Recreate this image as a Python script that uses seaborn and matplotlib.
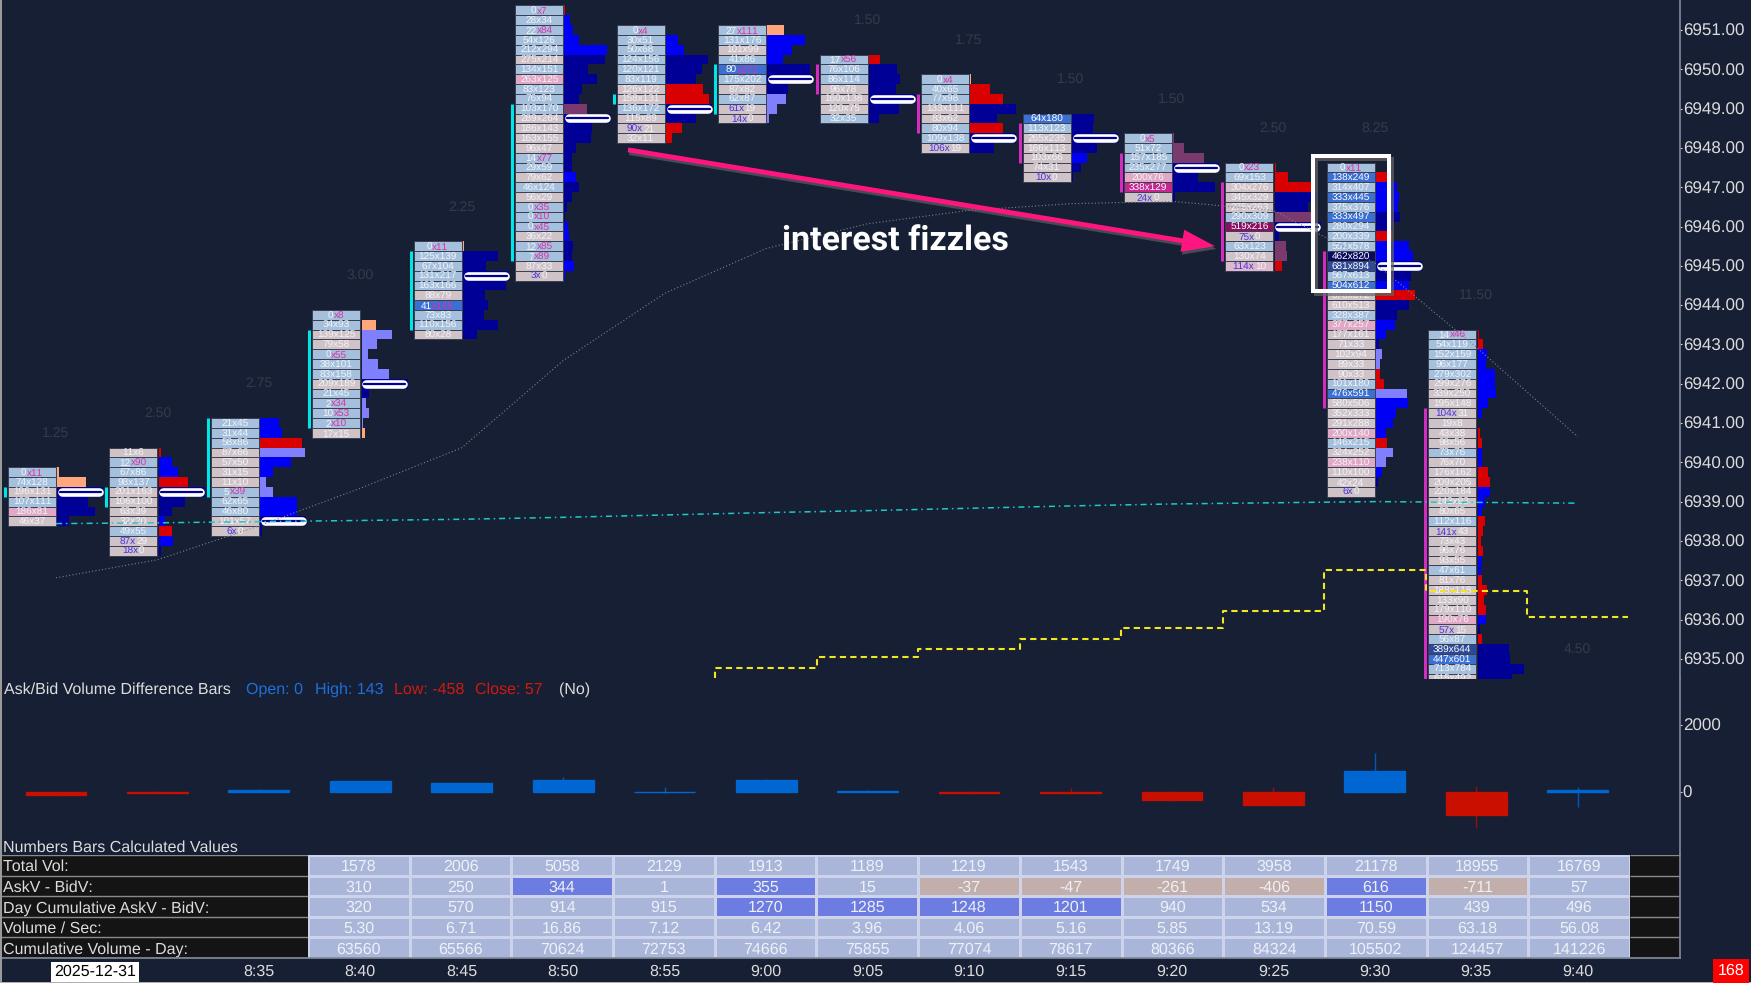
import matplotlib
matplotlib.use("Agg")
import matplotlib.pyplot as plt
import matplotlib.patheffects as pe
from matplotlib.colors import ListedColormap
from matplotlib.patches import FancyArrowPatch, Rectangle
import numpy as np
import pandas as pd
import seaborn as sns

# ---------- footprint data ----------
BAR_TOPS = [6939.75, 6940.25, 6941.0, 6943.75, 6945.5, 6951.5, 6951.0, 6951.0,
            6950.25, 6949.75, 6948.75, 6948.25, 6947.5, 6947.5, 6943.25]
BAR_00 = ["0x11", "74x128", "196x131", "107x111", "186x81", "46x37"]
BAR_01 = ["11x6", "12x90", "67x86", "98x137", "201x163", "106x100", "63x39", "32x20", "49x55", "87x29", "18x0"]
BAR_02 = ["21x45", "31x44", "58x86", "87x66", "57x50", "31x15", "11x10", "5x39", "62x65", "46x80", "101x57", "6x0"]
BAR_03 = ["0x8", "34x93", "139x125", "79x58", "0x55", "38x101", "83x158", "209x189", "21x45", "2x34", "10x53", "2x10", "17x15"]
BAR_04 = ["0x11", "125x139", "67x104", "131x217", "163x166", "88x79", "41x145", "73x83", "110x156", "80x28"]
BAR_05 = ["0x7", "28x34", "22x84", "54x126", "212x294", "275x214", "134x151", "263x125", "83x123", "76x94",
          "103x170", "289x264", "186x143", "163x155", "96x47", "14x77", "29x59", "79x62", "46x124", "56x29",
          "0x35", "0x10", "0x45", "36x22", "12x85", "7x89", "87x33", "3x0"]
BAR_06 = ["0x4", "30x51", "50x68", "124x156", "120x121", "83x119", "126x122", "158x131", "136x172", "115x89", "90x21", "32x11"]
BAR_07 = ["27x111", "131x176", "101x99", "41x86", "80x272", "175x202", "87x82", "62x87", "61x19", "14x0"]
BAR_08 = ["17x56", "76x106", "86x114", "96x78", "160x138", "120x75", "32x35"]
BAR_09 = ["0x4", "40x65", "77x98", "133x111", "83x62", "80x94", "109x138", "106x19"]
BAR_10 = ["64x180", "113x123", "265x235", "166x113", "103x66", "74x31", "10x0"]
BAR_11 = ["0x5", "51x72", "157x185", "235x277", "200x76", "338x129", "24x0"]
BAR_12 = ["0x23", "69x153", "304x276", "345x329", "275x263", "290x309", "519x216", "75x0", "63x123", "130x74", "114x10"]
BAR_13 = ["0x11", "138x249", "314x407", "333x445", "375x376", "333x497", "280x294", "200x339", "551x578", "462x820",
          "681x894", "567x613", "504x612", "678x672", "610x513", "328x387", "377x257", "177x161", "71x33", "102x94",
          "89x33", "90x33", "101x180", "476x591", "580x506", "352x333", "291x288", "200x140", "146x215", "324x252",
          "238x110", "110x100", "42x24", "6x0"]
BAR_14 = ["14x46", "54x119", "152x159", "96x177", "279x302", "299x276", "339x250", "195x148", "104x31", "19x8",
          "43x38", "98x56", "73x76", "76x70", "176x162", "209x205", "220x184", "143x93", "80x65", "112x116",
          "141x43", "73x43", "96x76", "93x55", "47x61", "81x76", "188x118", "133x90", "179x110", "190x76",
          "57x15", "56x87", "389x644", "447x601", "713x784", "615x492"]
BARS = [BAR_00, BAR_01, BAR_02, BAR_03, BAR_04, BAR_05, BAR_06, BAR_07, BAR_08, BAR_09, BAR_10, BAR_11, BAR_12, BAR_13, BAR_14]

# profile colour code per row (P = point of control row)
PROFILE = ["ooPnnn", "rbbrPnnbrbn", "bbrpbbppbbPn", "oopppppPnpppo", "onnPnnnnnn",
           "rbbbbnnnnnmPnnnnnbnnnnbbnnbb", "rbbnnnrrPnrr", "obbbnPnppp", "rnnnPnn", "orrnnrPn",
           "nnPnbnn", "mmmPnnn", "rrrnnmPnmmr", "rrbbbnnrbbPnbrnnbbnpprrpbbbbrppbnn",
           "rrbbbbbbbnrrbbrrbbbrrrrbbrrrrbnrnnnn"]
# price-side marker: first row, last row, colour code
SIDE_MARK = [(2, 2, "c"), (4, 5, "c"), (0, 7, "c"), (2, 11, "c"), (1, 8, "c"), (10, 25, "c"), (7, 7, "c"), (4, 8, "c"),
             (1, 3, "m"), (2, 5, "m"), (1, 4, "m"), (2, 5, "m"), (2, 9, "m"), (9, 24, "m"), (8, 35, "m")]
STRONG_CELLS = {(0, "186x81"): "pink", (5, "263x125"): "pink", (13, "377x257"): "pink", (13, "200x140"): "pink",
                (13, "238x110"): "pink", (11, "200x76"): "pink", (14, "190x76"): "pink", (12, "114x10"): "pale",
                (11, "338x129"): "mag", (12, "519x216"): "dmag",
                (4, "41x145"): "mid", (7, "80x272"): "mid", (10, "64x180"): "mid", (13, "138x249"): "mid",
                (13, "333x445"): "mid", (13, "333x497"): "mid", (13, "504x612"): "mid", (13, "476x591"): "mid",
                (14, "447x601"): "mid", (13, "681x894"): "dark", (14, "389x644"): "dark", (13, "462x820"): "navy"}
DELTA_LABELS = {0: "1.25", 1: "2.50", 2: "2.75", 3: "3.00", 4: "2.25", 8: "1.50", 9: "1.75", 10: "1.50",
                11: "1.50", 12: "2.50", 13: "8.25", 14: "11.50"}
LAST_DELTA = ("4.50", 15, 6935.25)

MA_PRICE = [6937.06, 6937.52, 6938.38, 6939.34, 6940.37, 6942.59, 6944.3, 6945.44,
            6946.07, 6946.41, 6946.58, 6946.64, 6946.41, 6945.07, 6942.93, 6940.65]
VWAP_PRICE = [6938.44, 6938.46, 6938.49, 6938.52, 6938.55, 6938.6, 6938.66, 6938.72,
              6938.77, 6938.83, 6938.89, 6938.94, 6938.97, 6939.0, 6938.98, 6938.96]
STEP_BARS = [7, 8, 9, 10, 11, 12, 13, 14, 15]
STEP_PRICE = [6934.76, 6935.04, 6935.24, 6935.5, 6935.78, 6936.21, 6937.26, 6936.72, 6936.07]
STEP_START = 6934.5

# ---------- volume-difference candles ----------
DIFF_CLOSE = [-110, -25, 55, 310, 250, 344, 1, 355, 15, -37, -47, -261, -406, 616, -711, 57]
DIFF_HIGH = [0, 20, 70, 330, 260, 430, 150, 370, 50, 10, 120, 10, 130, 1150, 170, 143]
DIFF_LOW = [-130, -40, 0, 0, 0, 0, -30, 0, -20, -60, -70, -270, -440, 0, -1100, -458]

# ---------- table ----------
TIME_LABELS = ["8:35", "8:40", "8:45", "8:50", "8:55", "9:00", "9:05", "9:10", "9:15", "9:20", "9:25", "9:30", "9:35", "9:40"]
ROW_LABELS = ["Total Vol:", "AskV - BidV:", "Day Cumulative AskV - BidV:", "Volume / Sec:", "Cumulative Volume - Day:"]
TOTAL_VOL = ["1578", "2006", "5058", "2129", "1913", "1189", "1219", "1543", "1749", "3958", "21178", "18955", "16769"]
ASK_BID = ["310", "250", "344", "1", "355", "15", "-37", "-47", "-261", "-406", "616", "-711", "57"]
DAY_CUM = ["320", "570", "914", "915", "1270", "1285", "1248", "1201", "940", "534", "1150", "439", "496"]
VOL_SEC = ["5.30", "6.71", "16.86", "7.12", "6.42", "3.96", "4.06", "5.16", "5.85", "13.19", "70.59", "63.18", "56.08"]
CUM_VOL = ["63560", "65566", "70624", "72753", "74666", "75855", "77074", "78617", "80366", "84324", "105502", "124457", "141226"]
ASK_BID_SHADE = [0, 0, 1, 0, 1, 0, 2, 2, 2, 2, 1, 2, 0]
DAY_CUM_SHADE = [0, 0, 0, 0, 1, 1, 1, 1, 0, 0, 1, 0, 0]

# ---------- styling / layout ----------
W, H = 1751, 983
BG = "#161f33"
TXT = "#dcdcdc"
PX_PER_BAR, X0 = 101.45, 56.0
PX_PER_PT, Y0, P0 = 39.3, 30.0, 6951.0
CELL = 0.25
LADDER_W = 48 / PX_PER_BAR
PROFILE_W = 46 / PX_PER_BAR
PROFILE_COLORS = {"o": "#ffa77a", "n": "#000096", "b": "#0000f5", "r": "#d80000", "p": "#8080ff", "m": "#7a3a6e"}
CELL_COLORS = {"blue": "#a5c0dc", "gray": "#cfc3c8", "pink": "#e0a8c4", "pale": "#dcb8cc", "mag": "#c4288f",
               "dmag": "#8c0f62", "mid": "#3b6fd4", "dark": "#2c4a96", "navy": "#0a0a60"}
SIDE_COLORS = {"c": "#00e6e6", "m": "#d42cc0"}
PALE, ASK_IMB, BID_IMB = "#f2f4f8", "#4a30e0", "#dc30a8"

sns.set_theme(style="dark", rc={"axes.facecolor": BG, "figure.facecolor": BG})
plt.rcParams["font.family"] = ["Liberation Sans", "DejaVu Sans"]
plt.rcParams["text.hinting"] = "no_hinting"
plt.rcParams["text.hinting_factor"] = 1
fig = plt.figure(figsize=(W / 100, H / 100), dpi=100, facecolor=BG)


def axpx(left, top, right, bottom, **kw):
    return fig.add_axes([left / W, 1 - bottom / H, (right - left) / W, (bottom - top) / H], **kw)


XLIM = (-X0 / PX_PER_BAR, (1680 - X0) / PX_PER_BAR)
PANE_BOTTOM = 679
ax = axpx(0, 0, 1680, PANE_BOTTOM, facecolor=BG)
ax.set_xlim(*XLIM)
ax.set_ylim(P0 - (PANE_BOTTOM - Y0) / PX_PER_PT, P0 + Y0 / PX_PER_PT)

FS = 7.4
EM = FS * 100 / 72
for i, (top, rows, codes) in enumerate(zip(BAR_TOPS, BARS, PROFILE)):
    asks = np.array([int(r.split("x")[0]) for r in rows])
    bids = np.array([int(r.split("x")[1]) for r in rows])
    totals = asks + bids
    prices = top - CELL * np.arange(len(rows))
    colours = []
    for r, a, b in zip(rows, asks, bids):
        key = STRONG_CELLS.get((i, r), "gray" if a > b else "blue")
        colours.append(CELL_COLORS[key])
    ax.barh(prices, [LADDER_W] * len(rows), left=i - LADDER_W, height=CELL, color=colours,
            edgecolor="#3a3f52", linewidth=0.7, zorder=2)
    widths = totals / totals.max() * PROFILE_W
    gap = 1.2 / PX_PER_BAR
    ax.barh(prices, widths, left=i + gap, height=CELL,
            color=[PROFILE_COLORS["n" if c == "P" else c] for c in codes], linewidth=0, zorder=2)
    # side marker
    r0, r1, code = SIDE_MARK[i]
    mx = i - LADDER_W - 3.0 / PX_PER_BAR
    ax.plot([mx, mx], [prices[r0] + CELL / 2, prices[r1] - CELL / 2], color=SIDE_COLORS[code],
            lw=2.2, solid_capstyle="butt", zorder=3)
    # point of control marker
    if "P" in codes:
        py = prices[codes.index("P")]
        x1, x2 = i + 6 / PX_PER_BAR, i + 43 / PX_PER_BAR
        ax.plot([x1, x2], [py, py], color="white", lw=6.2, solid_capstyle="round", zorder=5)
        ax.plot([x1 - 2 / PX_PER_BAR, x2 + 2 / PX_PER_BAR], [py, py], color="#000096", lw=1.6, zorder=6)
    # ladder text
    cx = i - LADDER_W / 2
    for r, a, b, p in zip(rows, asks, bids, prices):
        sa, sb = r.split("x")
        dark = STRONG_CELLS.get((i, r)) in ("mag", "dmag", "mid", "dark", "navy")
        base = "white" if dark else PALE
        if b >= 3 * max(a, 1) or a >= 3 * max(b, 1):
            da, dx = 0.556 * EM, 0.5 * EM
            total = (len(sa) + len(sb)) * da + dx
            start = cx - total / 2 / PX_PER_BAR
            if a > b:
                left_s, right_s, lc, rc_ = sa + "x", sb, ASK_IMB, base
                lw = len(sa) * da + dx
            else:
                left_s, right_s, lc, rc_ = sa, "x" + sb, base, BID_IMB
                lw = len(sa) * da
            ax.text(start, p, left_s, color=lc, fontsize=FS, ha="left", va="center_baseline", zorder=4, clip_on=True)
            ax.text(start + lw / PX_PER_BAR, p, right_s, color=rc_, fontsize=FS, ha="left", va="center_baseline", zorder=4, clip_on=True)
        else:
            ax.text(cx, p, r, color=base, fontsize=FS, ha="center", va="center_baseline", zorder=4, clip_on=True)
    if i in DELTA_LABELS:
        ax.text(i, top + 1.0, DELTA_LABELS[i], color="#343b4c", fontsize=10, ha="center", va="center", clip_on=True)
ax.text(LAST_DELTA[1], LAST_DELTA[2], LAST_DELTA[0], color="#343b4c", fontsize=10, ha="center", va="center")

# study lines
bars_idx = np.arange(len(MA_PRICE))
sns.lineplot(x=bars_idx, y=MA_PRICE, ax=ax, color="#7b808c", lw=0.8, linestyle=(0, (1, 2)), zorder=7, errorbar=None)
sns.lineplot(x=bars_idx, y=VWAP_PRICE, ax=ax, color="#1fc8c8", lw=1.1, linestyle=(0, (4, 2.5, 1, 2.5)), zorder=7, errorbar=None)
edges = np.r_[np.array(STEP_BARS) - 0.5, STEP_BARS[-1] + 0.5]
ax.step(np.r_[edges[0], edges], np.r_[STEP_START, STEP_PRICE, STEP_PRICE[-1]], where="post",
        color="#f2e620", lw=1.5, linestyle=(0, (3, 2)), zorder=7)

# callouts
arrow = FancyArrowPatch((5.638, 6947.95), (11.424, 6945.5), shrinkA=0, shrinkB=0,
                        arrowstyle="simple,head_length=1.7,head_width=1.15,tail_width=0.25", mutation_scale=14,
                        color="#ff1580", lw=0, zorder=8,
                        path_effects=[pe.SimplePatchShadow(offset=(1, -2), shadow_rgbFace="#777777", alpha=0.5), pe.Normal()])
ax.add_patch(arrow)
ax.text(895 / PX_PER_BAR - X0 / PX_PER_BAR, P0 - (241 - Y0) / PX_PER_PT, "interest fizzles", color="white",
        fontsize=24.5, fontweight="bold", family=["Roboto", "DejaVu Sans"], ha="center", va="center", zorder=9)
box = Rectangle((12.39, 6944.36), 0.75, 3.43, fill=False, edgecolor="white", lw=2.9, zorder=9, joinstyle="miter",
                path_effects=[pe.SimpleLineShadow(offset=(2, -2), shadow_color="#666666", alpha=0.7), pe.Normal()])
ax.add_patch(box)

ax.yaxis.tick_right()
ax.set_yticks(np.arange(6935, 6952))
ax.set_yticklabels([f"{v:.2f}" for v in np.arange(6935, 6952)])
ax.tick_params(axis="y", colors=TXT, labelsize=12, length=1.5, width=0.8, pad=0.5)
ax.set_xticks([])
ax.set_xlabel("")
ax.set_ylabel("")
for s in ("top", "left", "bottom"):
    ax.spines[s].set_visible(False)
ax.spines["right"].set_color("#7e8798")

# volume-difference pane
TBL_TOP, TBL_BOT = 855, 958
vol = axpx(0, PANE_BOTTOM, 1680, TBL_TOP, facecolor=BG)
vol.set_xlim(*XLIM)
vol.set_ylim((791.7 - TBL_TOP) / 0.0333, (791.7 - PANE_BOTTOM) / 0.0333)
xs = np.arange(len(DIFF_CLOSE))
cand = ["#0066d2" if c >= 0 else "#c80f00" for c in DIFF_CLOSE]
vol.vlines(xs, DIFF_LOW, DIFF_HIGH, colors=["#0058b8" if c >= 0 else "#9c0e05" for c in DIFF_CLOSE], lw=1, zorder=2)
vol.bar(xs, DIFF_CLOSE, width=0.6, color=cand, edgecolor=cand, linewidth=1.0, zorder=3)
vol.yaxis.tick_right()
vol.set_yticks([0, 2000])
vol.set_yticklabels(["0", "2000"])
vol.tick_params(axis="y", colors=TXT, labelsize=12, length=1.5, width=0.8, pad=0.5)
vol.set_xticks([])
for s in ("top", "left", "bottom"):
    vol.spines[s].set_visible(False)
vol.spines["right"].set_color("#7e8798")

LEGEND_Y = 1 - 690 / H
for xp, s, c in [(4, "Ask/Bid Volume Difference Bars", TXT), (246, "Open: 0", "#1f6fd8"), (315, "High: 143", "#1f6fd8"),
                 (394, "Low: -458", "#d01a10"), (475, "Close: 57", "#d01a10"), (559, "(No)", TXT)]:
    fig.text(xp / W, LEGEND_Y, s, color=c, fontsize=11.5, ha="left", va="center")
fig.text(3 / W, 1 - 847.5 / H, "Numbers Bars Calculated Values", color=TXT, fontsize=11.5, ha="left", va="center")

# table: row labels, body heatmap, right filler
lab = axpx(0, TBL_TOP, 308, TBL_BOT, facecolor="#141414")
lab.set_xlim(0, 308)
lab.set_ylim(5, 0)
for k, s in enumerate(ROW_LABELS):
    lab.text(3, k + 0.5, s, color=TXT, fontsize=11.5, ha="left", va="center_baseline")
lab.hlines(np.arange(6), 0, 308, colors="#8a8a8a", lw=1.0)
lab.set_xticks([]); lab.set_yticks([])
lab.grid(False)
for s in lab.spines.values():
    s.set_visible(False)

rgt = axpx(1630, TBL_TOP, 1680, TBL_BOT, facecolor="#141414")
rgt.set_xlim(0, 1); rgt.set_ylim(5, 0)
rgt.hlines(np.arange(6), 0, 1, colors="#8a8a8a", lw=1.0)
rgt.set_xticks([]); rgt.set_yticks([])
for s in ("top", "left", "bottom"):
    rgt.spines[s].set_visible(False)
rgt.spines["right"].set_color("#7e8798")

annot = pd.DataFrame([TOTAL_VOL, ASK_BID, DAY_CUM, VOL_SEC, CUM_VOL], index=ROW_LABELS)
shade = np.zeros(annot.shape, dtype=int)
shade[1] = ASK_BID_SHADE
shade[2] = DAY_CUM_SHADE
tbl = axpx(308, TBL_TOP, 1630, TBL_BOT)
sns.heatmap(shade, ax=tbl, annot=annot.values, fmt="", cbar=False, vmin=0, vmax=2,
            cmap=ListedColormap(["#a9b6da", "#6c7ce0", "#c2aeaa"]), linewidths=0.8, linecolor="#ccd3ea",
            annot_kws={"fontsize": 11.5, "color": "#eef0f6", "va": "center_baseline"},
            xticklabels=False, yticklabels=False)

# time axis
tm = axpx(0, TBL_BOT, 1680, TBL_BOT + 1, facecolor=BG)
tm.set_xlim(*XLIM)
tm.set_yticks([])
tm.set_xticks(np.arange(2, 2 + len(TIME_LABELS)))
tm.set_xticklabels(TIME_LABELS)
tm.tick_params(axis="x", colors=TXT, labelsize=11.5, length=2.5, width=0.8, pad=1.5)
for s in ("left", "right", "bottom"):
    tm.spines[s].set_visible(False)
tm.spines["top"].set_color("#7e8798")
fig.text(95 / W, 1 - 972 / H, "2025-12-31", color="black", fontsize=11.5, ha="center", va="center",
         bbox=dict(facecolor="white", edgecolor="none", pad=2.0))
fig.text(1731 / W, 1 - 971 / H, "168", color="white", fontsize=11.5, ha="center", va="center",
         bbox=dict(facecolor="#ff0000", edgecolor="none", pad=3.5))
fig.add_artist(Rectangle((0, 0), 2 / W, 1, transform=fig.transFigure, color="#9a9a9a", lw=0))
fig.add_artist(Rectangle((0, 0), 1, 1.5 / H, transform=fig.transFigure, color="#b0b0b0", lw=0))

fig.savefig("out.png", dpi=100, facecolor=BG)
